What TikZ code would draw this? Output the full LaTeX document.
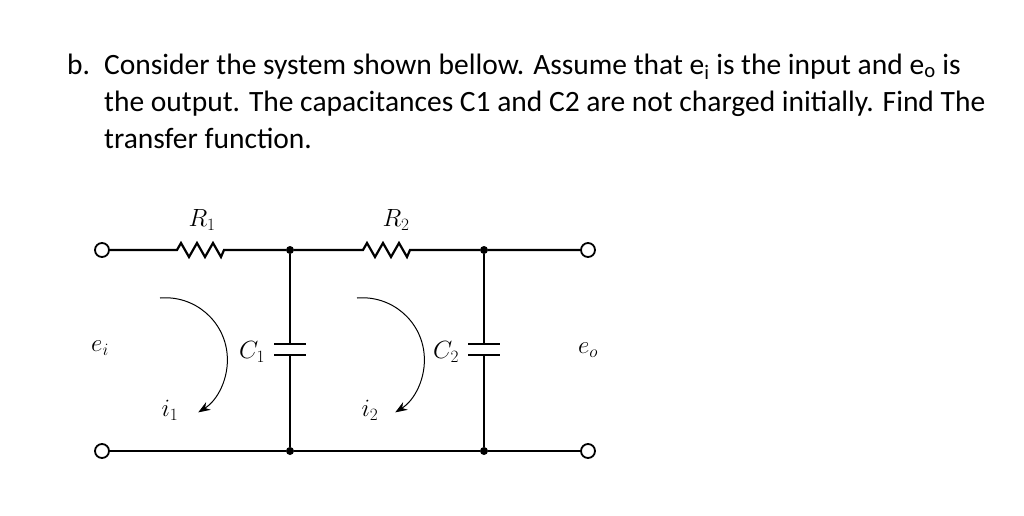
\documentclass[tikz,border=0pt]{standalone}
\usepackage{fontspec}
\setmainfont{Carlito}
\usetikzlibrary{arrows.meta}
\begin{document}
\begin{tikzpicture}[x=1pt,y=-1pt,
  wire/.style={line width=2.2pt},
  term/.style={circle,draw,line width=1.8pt,fill=white,minimum size=14pt,inner sep=0pt},
  dot/.style={circle,fill,minimum size=8pt,inner sep=0pt},
  lbl/.style={font=\fontsize{25}{28}\selectfont},
  txt/.style={font=\fontsize{29.5}{34}\selectfont,anchor=base west,inner sep=0pt},
  cur/.style={line width=1pt,-{Stealth[length=12pt,width=9pt]}}]
\useasboundingbox (0,0) rectangle (1024,515);
\node[txt] (tb) at (67,74) {b.};
\node[txt] (t1) at (104,74) {Consider the system shown bellow. Assume that e\textsubscript{i} is the input and e\textsubscript{o} is};
\node[txt] (t2) at (104,111) {the output. The capacitances C1 and C2 are not charged initially. Find The};
\node[txt] (t3) at (104,148) {transfer function.};
% nodes
\node[term] (a1) at (102,250) {};
\node[term] (a2) at (102,451) {};
\node[term] (b1) at (588,250) {};
\node[term] (b2) at (588,451) {};
\node[dot] (n1) at (290,250) {};
\node[dot] (n2) at (484,250) {};
\node[dot] (m1) at (290,451) {};
\node[dot] (m2) at (484,451) {};
\coordinate (r1a) at (177,250); \coordinate (r1b) at (224,250);
\coordinate (r2a) at (363,250); \coordinate (r2b) at (410,250);
% wires
\draw[wire,line join=miter] (a1) -- (r1a) -- ++(4,-7) -- ++(8,14) -- ++(8,-14) -- ++(8,14) -- ++(8,-14) -- ++(8,14) -- ++(3,-7) -- (r1b) -- (n1) -- (r2a)
  -- ++(4,-7) -- ++(8,14) -- ++(8,-14) -- ++(8,14) -- ++(8,-14) -- ++(8,14) -- ++(3,-7) -- (r2b) -- (n2) -- (b1);
\draw[wire] (a2) -- (m1) -- (m2) -- (b2);
\foreach \n/\m in {n1/m1,n2/m2}{
  \draw[wire] (\n) -- ([yshift=-94pt]\n.center);
  \draw[wire] ([xshift=-16pt,yshift=-94pt]\n.center) -- ([xshift=16pt,yshift=-94pt]\n.center);
  \draw[wire] ([xshift=-16pt,yshift=-105pt]\n.center) -- ([xshift=16pt,yshift=-105pt]\n.center);
  \draw[wire] ([yshift=-105pt]\n.center) -- (\m);
}
% currents
\draw[cur] (160,298) arc[start angle=-95,end angle=58,radius=62];
\draw[cur] (357,298) arc[start angle=-95,end angle=58,radius=62];
% labels
\node[lbl] (lR1) at (202,220) {$R_1$};
\node[lbl] (lR2) at (396,220) {$R_2$};
\node[lbl] (lC1) at (252,352) {$C_1$};
\node[lbl] (lC2) at (446,352) {$C_2$};
\node[lbl] (lei) at (100,348) {$e_i$};
\node[lbl] (leo) at (588,350) {$e_o$};
\node[lbl] (li1) at (170,410) {$i_1$};
\node[lbl] (li2) at (370,410) {$i_2$};
\end{tikzpicture}
\end{document}
